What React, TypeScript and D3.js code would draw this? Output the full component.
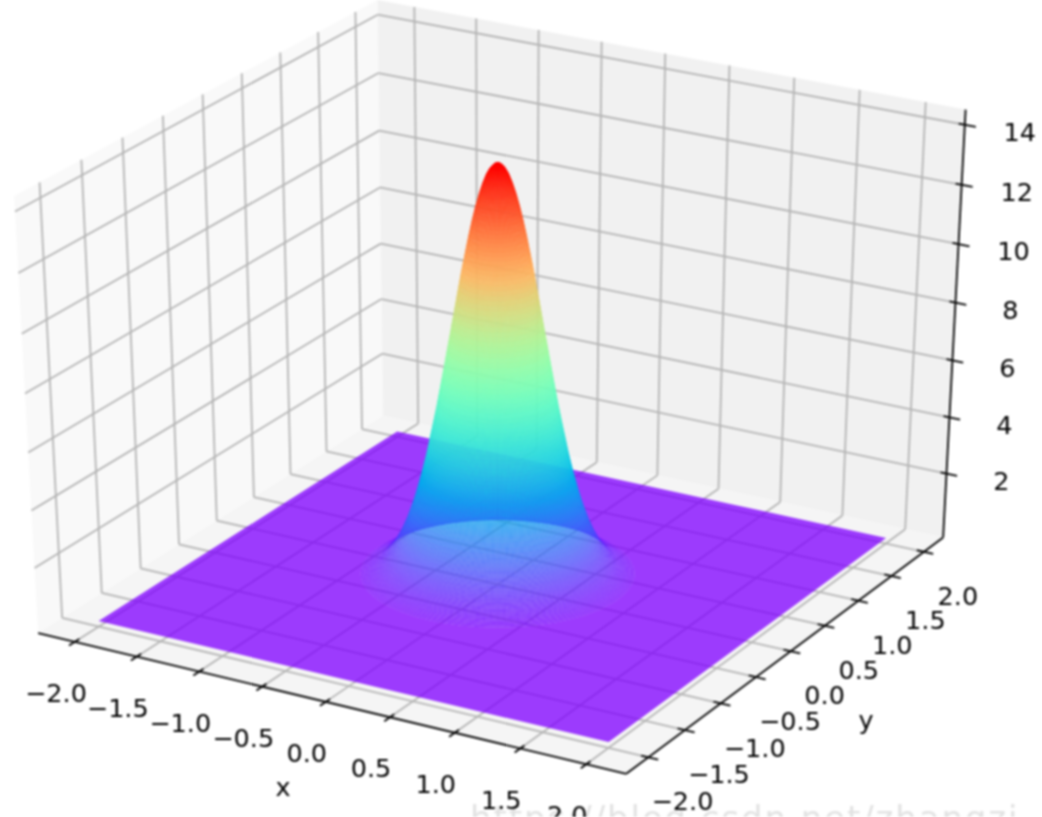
import React, { useMemo } from "react";
import * as d3 from "d3";

const xTicks = [-2, -1.5, -1, -0.5, 0, 0.5, 1, 1.5, 2];
const yTicks = [-2, -1.5, -1, -0.5, 0, 0.5, 1, 1.5, 2];
const zTicks = [2, 4, 6, 8, 10, 12, 14];
const xLim = [-2.3, 2.3];
const yLim = [-2.3, 2.3];
const zLim = [-0.3, 14.5];
const sheetExtent = [-2, 2];
const sheetLevel = -0.1;
// radial height profile of the peak
const ringRadius = [0, 0.024, 0.049, 0.073, 0.097, 0.121, 0.146, 0.17, 0.194, 0.218, 0.243, 0.267, 0.291, 0.315, 0.34, 0.364, 0.388, 0.412, 0.437, 0.461, 0.485, 0.509, 0.534, 0.558, 0.582, 0.631, 0.679, 0.728, 0.776, 0.825, 0.88, 0.95];
const ringHeight = [14.15, 14.11, 13.98, 13.78, 13.49, 13.14, 12.71, 12.23, 11.7, 11.12, 10.51, 9.87, 9.22, 8.56, 7.9, 7.25, 6.62, 5.99, 5.4, 4.85, 4.3, 3.81, 3.35, 2.93, 2.55, 1.89, 1.37, 0.97, 0.67, 0.45, 0.3, 0.12];

const W = 1042;
const H = 817;
const toRad = Math.PI / 180;
const elev = 30 * toRad;
const azim = -60 * toRad;
const dist = 10;
const n = [Math.cos(elev) * Math.cos(azim), Math.cos(elev) * Math.sin(azim), Math.sin(elev)];
const uLen = Math.hypot(n[1], n[0]);
const u = [-n[1] / uLen, n[0] / uLen, 0];
const v = [n[1] * u[2] - n[2] * u[1], n[2] * u[0] - n[0] * u[2], n[0] * u[1] - n[1] * u[0]];

const nx = d3.scaleLinear().domain(xLim).range([-0.5, 0.5]);
const ny = d3.scaleLinear().domain(yLim).range([-0.5, 0.5]);
const nz = d3.scaleLinear().domain(zLim).range([-0.5, 0.5]);
const sx = d3.scaleLinear().domain([-0.0677, 0.0656]).range([38, 943]);
const sy = d3.scaleLinear().domain([-0.05197, 0.0749]).range([633, 0]);

type P = { x: number; y: number; w: number };
function projN(a: number, b: number, c: number): P {
  const us = u[0] * a + u[1] * b;
  const vs = v[0] * a + v[1] * b + v[2] * c;
  const w = dist - (n[0] * a + n[1] * b + n[2] * c);
  return { x: sx(us / w), y: sy(vs / w), w };
}
const proj = (x: number, y: number, z: number) => projN(nx(x), ny(y), nz(z));
const pts = (l: P[]) => "M" + l.map((p) => `${p.x.toFixed(2)},${p.y.toFixed(2)}`).join("L") + "Z";

function rainbow(t: number) {
  const r = Math.min(1, Math.abs(2 * t - 0.5));
  const g = Math.sin(Math.PI * t);
  const b = Math.cos((Math.PI * t) / 2);
  return `rgb(${Math.round(r * 255)},${Math.round(g * 255)},${Math.round(b * 255)})`;
}

const heightAt = d3.scaleLinear().domain(ringRadius).range(ringHeight);
const peak = d3.max(ringHeight) as number;
const radii: number[] = [];
ringRadius.forEach((r, i) => {
  if (i === ringRadius.length - 1) { radii.push(r); return; }
  const step = (ringRadius[i + 1] - r) / 4;
  for (let k = 0; k < 4; k++) radii.push(r + k * step);
});
const nAngles = 120;

const FONT = "'DejaVu Sans', sans-serif";
const GRID = "#b4b4b4";
const ALPHA = 0.76;
const fmt = (t: number) => (t < 0 ? "\u2212" : "") + Math.abs(t).toFixed(1);

export default function App() {
  const faces = useMemo(() => {
    const out: { d: string; fill: string; w: number }[] = [];
    for (let i = 0; i < radii.length - 1; i++) {
      for (let j = 0; j < nAngles; j++) {
        const a0 = (j / nAngles) * 2 * Math.PI;
        const a1 = ((j + 1) / nAngles) * 2 * Math.PI;
        const r0 = radii[i];
        const r1 = radii[i + 1];
        const z0 = heightAt(r0);
        const z1 = heightAt(r1);
        const q = [
          proj(r0 * Math.cos(a0), r0 * Math.sin(a0), z0),
          proj(r1 * Math.cos(a0), r1 * Math.sin(a0), z1),
          proj(r1 * Math.cos(a1), r1 * Math.sin(a1), z1),
          proj(r0 * Math.cos(a1), r0 * Math.sin(a1), z0),
        ];
        const col = rainbow((z0 + z1) / 2 / peak);
        out.push({ d: pts(q), fill: col, w: d3.mean(q, (p) => p.w) as number });
      }
    }
    out.sort((a, b) => b.w - a.w);
    return out;
  }, []);

  const [x0, x1] = xLim;
  const [y0, y1] = yLim;
  const [z0, z1] = zLim;
  const line = (a: P, b: P) => ({ x1: a.x, y1: a.y, x2: b.x, y2: b.y });
  const outer = radii[radii.length - 1];
  const rim = d3.range(nAngles).map((j) => {
    const a = (j / nAngles) * 2 * Math.PI;
    return proj(outer * Math.cos(a), outer * Math.sin(a), ringHeight[ringHeight.length - 1]);
  });
  const [s0, s1] = sheetExtent;
  const sheet = [proj(s0, s0, sheetLevel), proj(s1, s0, sheetLevel), proj(s1, s1, sheetLevel), proj(s0, s1, sheetLevel)];

  return (
    <svg width={W} height={H} style={{ position: "fixed", left: 0, top: 0, background: "#fff", filter: "blur(0.8px)" }} fontFamily={FONT}>
      <path d={pts([proj(x0, y0, z0), proj(x0, y1, z0), proj(x0, y1, z1), proj(x0, y0, z1)])} fill="#f9f9f9" />
      <path d={pts([proj(x0, y1, z0), proj(x1, y1, z0), proj(x1, y1, z1), proj(x0, y1, z1)])} fill="#f1f1f1" />
      <path d={pts([proj(x0, y0, z0), proj(x1, y0, z0), proj(x1, y1, z0), proj(x0, y1, z0)])} fill="#f5f5f5" />
      <g stroke={GRID} strokeWidth={1.8} fill="none">
        {xTicks.map((t) => (
          <g key={"gx" + t}>
            <line {...line(proj(t, y0, z0), proj(t, y1, z0))} />
            <line {...line(proj(t, y1, z0), proj(t, y1, z1))} />
          </g>
        ))}
        {yTicks.map((t) => (
          <g key={"gy" + t}>
            <line {...line(proj(x0, t, z0), proj(x1, t, z0))} />
            <line {...line(proj(x0, t, z0), proj(x0, t, z1))} />
          </g>
        ))}
        {zTicks.map((t) => (
          <g key={"gz" + t}>
            <line {...line(proj(x0, y0, t), proj(x0, y1, t))} />
            <line {...line(proj(x0, y1, t), proj(x1, y1, t))} />
          </g>
        ))}
      </g>
      <path d={pts(sheet) + pts(rim)} fill={rainbow(0)} fillOpacity={ALPHA} fillRule="evenodd" />
      <g fillOpacity={ALPHA}>
        {faces.map((f, i) => (
          <path key={i} d={f.d} fill={f.fill} stroke={f.fill} strokeWidth={0.3} strokeOpacity={0.5} />
        ))}
      </g>
      <g stroke="#000" strokeWidth={1.8} fill="none">
        <line {...line(proj(x0, y0, z0), proj(x1, y0, z0))} />
        <line {...line(proj(x1, y0, z0), proj(x1, y1, z0))} />
        <line {...line(proj(x1, y1, z0), proj(x1, y1, z1))} />
        {xTicks.map((t) => (
          <line key={"tx" + t} {...line(projN(nx(t), -0.5 + 0.012, -0.5), projN(nx(t), -0.5 - 0.016, -0.5))} />
        ))}
        {yTicks.map((t) => (
          <line key={"ty" + t} {...line(projN(0.5 - 0.012, ny(t), -0.5), projN(0.5 + 0.016, ny(t), -0.5))} />
        ))}
        {zTicks.map((t) => (
          <line key={"tz" + t} {...line(projN(0.5 - 0.01, 0.5, nz(t)), projN(0.5 + 0.018, 0.5, nz(t)))} />
        ))}
      </g>
      <text x={470} y={830} fontSize={34} fill="#e2e2e2" letterSpacing={1.9}>https://blog.csdn.net/zhangzi</text>
      <g fontSize={25.5} fill="#000" textAnchor="middle">
        {xTicks.map((t) => {
          const p = proj(t, y0, z0);
          return <text key={"lx" + t} x={p.x - 19} y={p.y + 51} dy="0.36em">{fmt(t)}</text>;
        })}
        {yTicks.map((t) => {
          const p = proj(x1, t, z0);
          return <text key={"ly" + t} x={p.x + 34} y={p.y + 44} dy="0.36em">{fmt(t)}</text>;
        })}
        {zTicks.map((t) => {
          const p = proj(x1, y1, t);
          return <text key={"lz" + t} x={p.x + 55} y={p.y + 7} dy="0.36em">{t}</text>;
        })}
        <text x={283} y={788} dy="0.3em">x</text>
        <text x={866} y={724} dy="0.2em">y</text>
      </g>
    </svg>
  );
}
